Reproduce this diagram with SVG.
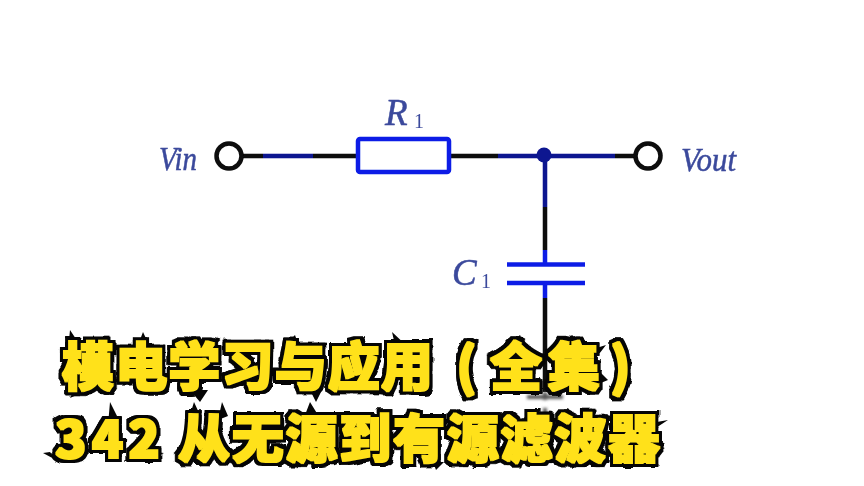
<svg xmlns="http://www.w3.org/2000/svg" width="864" height="486" viewBox="0 0 864 486">
<style>
.w{fill:none;stroke-width:4.500}
.k{stroke:#0a0a0a}.n{stroke:#0c1490}.b{stroke:#0b1fe6}
.term{fill:#fff;stroke:#0a0a0a;stroke-width:4.500}
.lab{font-family:"Liberation Serif",serif;font-style:italic;fill:#3b4a9c;stroke:#3b4a9c;stroke-width:.5}
.sub{font-family:"Liberation Serif",serif;fill:#3b4a9c}
.t{font-family:"Noto Sans CJK SC",sans-serif;font-weight:900;font-size:52px;fill:#ffe11a}
.spike{fill:#050505}
</style>
<defs>
<filter id="soft" x="-10%" y="-10%" width="120%" height="120%"><feGaussianBlur stdDeviation="0.7"/></filter>
<filter id="gb" x="-50%" y="-50%" width="200%" height="200%"><feGaussianBlur stdDeviation="1.6"/></filter>
<filter id="comic" x="-5%" y="-20%" width="110%" height="140%" color-interpolation-filters="sRGB">
<feMorphology in="SourceAlpha" operator="dilate" radius="0.8" result="fat"/>
<feFlood flood-color="#ffe11a"/><feComposite in2="fat" operator="in" result="yellow"/>
<feMorphology in="SourceAlpha" operator="dilate" radius="3.800" result="out"/>
<feTurbulence type="fractalNoise" baseFrequency="0.09" numOctaves="2" seed="4" result="n"/>
<feDisplacementMap in="out" in2="n" scale="7" xChannelSelector="R" yChannelSelector="G" result="jag"/>
<feMerge result="m"><feMergeNode in="jag"/><feMergeNode in="out"/></feMerge>
<feFlood flood-color="#050505"/><feComposite in2="m" operator="in" result="black"/>
<feMerge><feMergeNode in="black"/><feMergeNode in="yellow"/></feMerge>
</filter>
</defs>
<rect width="864" height="486" fill="#fff"/>
<g id="connectors" filter="url(#soft)">
<path class="w k" d="M241 156H263M313 156H358M449 156H498M615 156H636M545 207V250M545 298V392"/>
<path class="w n" d="M263 156H313M498 156H615M545 156V207"/>
<path class="w b" d="M545 250V264M545 283V298"/>
<path d="M527 397H563M545 392V400M545 408V416" fill="none" stroke="#555" stroke-width="4" filter="url(#gb)"/>
</g>
<g id="vin" filter="url(#soft)"><circle class="term" cx="229" cy="156" r="12.500"/><text class="lab" x="159" y="170" font-size="33" textLength="38" lengthAdjust="spacingAndGlyphs">Vin</text></g>
<g id="r1" filter="url(#soft)"><rect x="358" y="139" width="91" height="33" rx="2" fill="#fff" class="w b"/><text class="lab" x="385" y="125" font-size="37">R</text><text class="sub" x="414" y="128" font-size="20">1</text></g>
<g id="junction" filter="url(#soft)"><circle cx="544" cy="155" r="7.500" fill="#0c1490"/></g>
<g id="vout" filter="url(#soft)"><circle class="term" cx="648" cy="156" r="12.500"/><text class="lab" x="681" y="171" font-size="33" textLength="55" lengthAdjust="spacingAndGlyphs">Vout</text></g>
<g id="c1" filter="url(#soft)"><path class="w b" d="M507 264.500H585M507 283H585"/><text class="lab" x="452" y="285" font-size="37">C</text><text class="sub" x="481" y="288" font-size="20">1</text></g>
<g id="title">
<path class="spike" d="M68 350L70 330L80 345ZM138 345L143 332L150 347ZM285 345L295 335L300 350ZM395 345L392 332L408 347ZM75 388L70 398L88 390ZM190 390L200 402L208 390ZM310 390L316 402L322 390ZM590 350L606 345L596 358ZM596 385L608 380L600 372ZM108 425L110 402L120 422ZM50 452L43 453L56 460ZM155 452L164 453L150 460ZM190 415L194 402L200 415ZM218 420L222 402L228 416ZM305 415L310 402L318 415ZM640 425L668 420L645 435ZM650 445L665 448L648 456ZM433 462L436 470L444 462Z"/>
<g filter="url(#comic)">
<text class="t" x="62" y="386" textLength="371">模电学习与应用</text>
<text class="t" x="456" y="386">(</text>
<text class="t" x="490" y="386" textLength="110">全集</text>
<text class="t" x="610" y="386">)</text>
<text class="t" x="55" y="458" textLength="105">342</text>
<text class="t" x="178" y="458" textLength="482">从无源到有源滤波器</text>
</g>
</g>
</svg>
